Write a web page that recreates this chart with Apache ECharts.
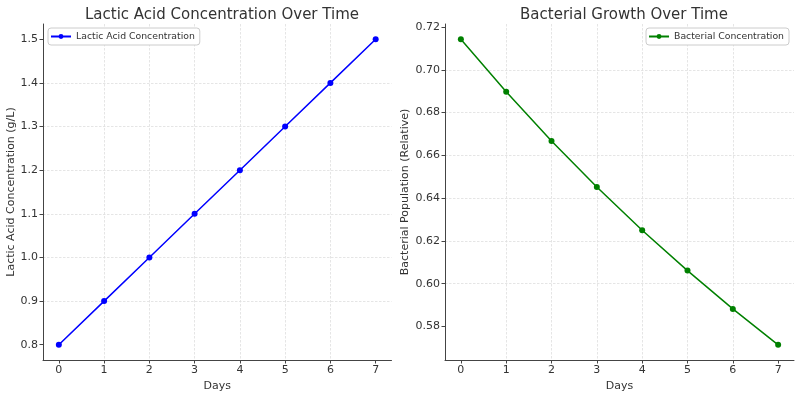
<!DOCTYPE html>
<html>
<head>
<meta charset="utf-8">
<script src="https://cdn.jsdelivr.net/npm/echarts@6/dist/echarts.min.js"></script>
<style>html,body{margin:0;padding:0;background:#fff}#c{width:800px;height:397px}</style>
</head>
<body>
<div id="c"></div>
<script>
const days = [0, 1, 2, 3, 4, 5, 6, 7];
const lacticAcid = [0.8, 0.9, 1.0, 1.1, 1.2, 1.3, 1.4, 1.5];
const bacterial = [0.7143, 0.6897, 0.6667, 0.6452, 0.6250, 0.6061, 0.5882, 0.5714];
const dayTicks = [0, 1, 2, 3, 4, 5, 6, 7];
const lacticTicks = [0.8, 0.9, 1.0, 1.1, 1.2, 1.3, 1.4, 1.5];
const bacterialTicks = [0.58, 0.60, 0.62, 0.64, 0.66, 0.68, 0.70, 0.72];

const FONT = 'DejaVu Sans';
const TXT = '#333';
const GRIDLINE = {color: '#dedede', width: 0.8, type: [2.5, 1.5]};
const chart = echarts.init(document.getElementById('c'), null, {renderer: 'canvas'});

function xAx(gridIndex) {
  return {
    type: 'value', gridIndex, min: -0.35, max: 7.35,
    name: 'Days', nameLocation: 'middle', nameGap: 15,
    nameTextStyle: {fontFamily: FONT, fontSize: 11, color: TXT},
    axisLine: {show: true, onZero: false, lineStyle: {color: '#444', width: 1}},
    axisTick: {show: true, inside: false, length: 3.5, customValues: dayTicks, lineStyle: {color: '#444'}},
    axisLabel: {customValues: dayTicks, fontFamily: FONT, fontSize: 11, color: TXT, margin: 5},
    splitLine: {show: true, showMinLine: false, showMaxLine: false, lineStyle: GRIDLINE}
  };
}
function yAx(gridIndex, min, max, ticks, name, gap, dec) {
  return {
    type: 'value', gridIndex, min, max,
    name, nameLocation: 'middle', nameGap: gap, nameRotate: 90,
    nameTextStyle: {fontFamily: FONT, fontSize: 11, color: TXT},
    axisLine: {show: true, onZero: false, lineStyle: {color: '#444', width: 1}},
    axisTick: {show: true, inside: false, length: 3.5, customValues: ticks, lineStyle: {color: '#444'}},
    axisLabel: {customValues: ticks, fontFamily: FONT, fontSize: 11, color: TXT, margin: 5,
      formatter: v => Number(v).toFixed(dec)},
    splitLine: {show: true, showMinLine: false, showMaxLine: false, lineStyle: GRIDLINE}
  };
}

chart.setOption({
  animation: false,
  backgroundColor: '#fff',
  title: [
    {text: 'Lactic Acid Concentration Over Time', left: 217, top: 3, textAlign: 'center',
     textStyle: {fontFamily: FONT, fontSize: 15, fontWeight: 'normal', color: TXT}},
    {text: 'Bacterial Growth Over Time', left: 619, top: 3, textAlign: 'center',
     textStyle: {fontFamily: FONT, fontSize: 15, fontWeight: 'normal', color: TXT}}
  ],
  legend: [
    {data: ['Lactic Acid Concentration'], left: 48, top: 28, orient: 'vertical',
     padding: [4, 5, 4, 2], itemWidth: 20, itemHeight: 6,
     borderColor: '#ccc', borderWidth: 1, borderRadius: 3, backgroundColor: '#fff',
     textStyle: {fontFamily: FONT, fontSize: 9.3, color: TXT}},
    {data: ['Bacterial Concentration'], right: 11, top: 28, orient: 'vertical',
     padding: [4, 5, 4, 2], itemWidth: 20, itemHeight: 6,
     borderColor: '#ccc', borderWidth: 1, borderRadius: 3, backgroundColor: '#fff',
     textStyle: {fontFamily: FONT, fontSize: 9.3, color: TXT}}
  ],
  grid: [
    {left: 43, top: 24, width: 348.5, height: 336},
    {left: 445, top: 24, width: 349, height: 336}
  ],
  xAxis: [xAx(0), xAx(1)],
  yAxis: [
    yAx(0, 0.765, 1.535, lacticTicks, 'Lactic Acid Concentration (g/L)', 26, 1),
    yAx(1, 0.56429, 0.72143, bacterialTicks, 'Bacterial Population (Relative)', 34, 2)
  ],
  series: [
    {name: 'Lactic Acid Concentration', type: 'line', xAxisIndex: 0, yAxisIndex: 0,
     data: days.map((d, i) => [d, lacticAcid[i]]),
     color: '#0000ff', symbol: 'circle', symbolSize: 6, lineStyle: {width: 1.5, color: '#0000ff'},
     itemStyle: {color: '#0000ff'}},
    {name: 'Bacterial Concentration', type: 'line', xAxisIndex: 1, yAxisIndex: 1,
     data: days.map((d, i) => [d, bacterial[i]]),
     color: '#008000', symbol: 'circle', symbolSize: 6, lineStyle: {width: 1.5, color: '#008000'},
     itemStyle: {color: '#008000'}}
  ]
});
</script>
</body>
</html>
